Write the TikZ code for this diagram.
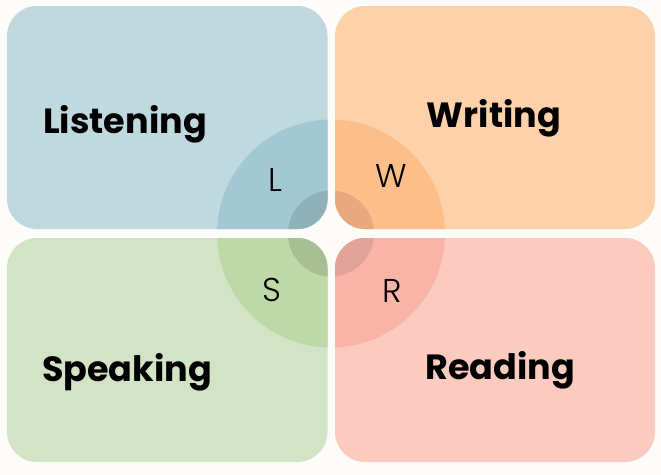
\documentclass[tikz,border=0pt]{standalone}
\usepackage{fontspec}
\setmainfont{Poppins}
\newfontfamily\headfont{Poppins}[UprightFont={* Bold}]
\newfontfamily\thinfont{Poppins Light}
\definecolor{bg}{HTML}{FDFCF8}
\definecolor{lbox}{HTML}{C0D9DF}
\definecolor{lbig}{HTML}{A2C9D3}
\definecolor{lsmall}{HTML}{8FB1B9}
\definecolor{wbox}{HTML}{FDD1AA}
\definecolor{wbig}{HTML}{FDBF89}
\definecolor{wsmall}{HTML}{E8A97E}
\definecolor{sbox}{HTML}{D3E3C5}
\definecolor{sbig}{HTML}{BDD9A7}
\definecolor{ssmall}{HTML}{A8BF96}
\definecolor{rbox}{HTML}{FBCBC0}
\definecolor{rbig}{HTML}{F9B3A7}
\definecolor{rsmall}{HTML}{E2A49A}
\tikzset{
  quadbox/.style={rounded corners=30pt},
  headtext/.style={font=\headfont\fontsize{35}{40}\selectfont, text=black, inner sep=0pt},
  lettertext/.style={font=\thinfont\fontsize{33}{36}\selectfont, text=black, inner sep=0pt}
}
\begin{document}
\begin{tikzpicture}[x=1pt,y=-1pt]
\useasboundingbox (0,0) rectangle (661,474);
\fill[bg] (0,0) rectangle (661,474);
\coordinate (c) at (331,233.5);
% Listening
\begin{scope}
  \path[clip, quadbox] (7,6) rectangle (327.5,229);
  \fill[lbox] (0,0) rectangle (340,240);
  \fill[lbig] (c) circle (114);
  \fill[lsmall] (c) circle (43);
\end{scope}
% Writing
\begin{scope}
  \path[clip, quadbox] (335,6) rectangle (655,229);
  \fill[wbox] (320,0) rectangle (661,240);
  \fill[wbig] (c) circle (114);
  \fill[wsmall] (c) circle (43);
\end{scope}
% Speaking
\begin{scope}
  \path[clip, quadbox] (7,238) rectangle (327.5,462);
  \fill[sbox] (0,230) rectangle (340,474);
  \fill[sbig] (c) circle (114);
  \fill[ssmall] (c) circle (43);
\end{scope}
% Reading
\begin{scope}
  \path[clip, quadbox] (335,238) rectangle (655,462);
  \fill[rbox] (320,230) rectangle (661,474);
  \fill[rbig] (c) circle (114);
  \fill[rsmall] (c) circle (43);
\end{scope}
\node[headtext] (listening) at (125,124) {Listening};
\node[headtext] (writing) at (494,118) {Writing};
\node[headtext] (speaking) at (127,372) {Speaking};
\node[headtext] (reading) at (500,370) {Reading};
\node[lettertext] (l) at (275,180) {L};
\node[lettertext] (w) at (391,176) {W};
\node[lettertext] (s) at (272,290) {S};
\node[lettertext] (r) at (392,291) {R};
\end{tikzpicture}
\end{document}
